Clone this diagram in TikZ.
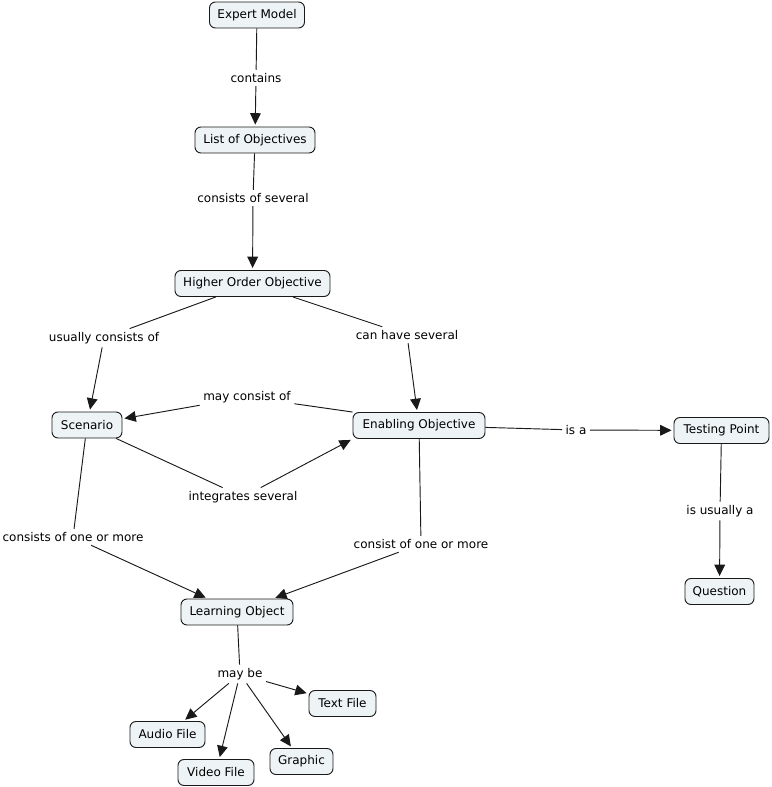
\documentclass[tikz,border=0pt]{standalone}
\usepackage{fontspec}
\setmainfont{DejaVu Sans}
\usetikzlibrary{arrows.meta}
\definecolor{nodefill}{RGB}{238,243,245}
\tikzset{
  concept/.style={draw=black!90, fill=nodefill, rounded corners=4.5pt, line width=0.7pt,
    minimum height=19.5pt, inner xsep=3pt, inner ysep=2pt, font=\fontsize{9}{10.5}\selectfont},
  lbl/.style={inner sep=2.5pt, font=\fontsize{9}{10.5}\selectfont},
  link/.style={line width=0.7pt, black!90},
  arr/.style={link, -{Triangle[length=8.5pt,width=8pt]}, shorten >=1.5pt},
}
\begin{document}
\begin{tikzpicture}[x=0.75pt,y=-0.75pt]
\useasboundingbox (0,0) rectangle (771,787);
% concepts
\node[concept, minimum width=71.25pt] (em) at (257,15) {Expert Model};
\node[concept, minimum width=90pt] (lo) at (255,140) {List of Objectives};
\node[concept, minimum width=116.25pt] (hoo) at (252.5,283.5) {Higher Order Objective};
\node[concept, minimum width=52.5pt] (sc) at (87,425) {Scenario};
\node[concept, minimum width=99pt] (eo) at (419,425.5) {Enabling Objective};
\node[concept, minimum width=71.25pt] (tp) at (721.5,430.5) {Testing Point};
\node[concept, minimum width=51.75pt] (q) at (719.5,591.5) {Question};
\node[concept, minimum width=84pt] (lob) at (237,612) {Learning Object};
\node[concept, minimum width=50.25pt] (tf) at (342.5,703.5) {Text File};
\node[concept, minimum width=56.25pt] (af) at (167.5,734.5) {Audio File};
\node[concept, minimum width=57pt] (vf) at (216,772.5) {Video File};
\node[concept, minimum width=47.25pt] (gr) at (301.5,761.5) {Graphic};
% linking phrases
\node[lbl] (l1) at (256,78) {contains};
\node[lbl] (l2) at (253,198) {consists of several};
\node[lbl] (l3) at (104,338) {usually consists of};
\node[lbl] (l4) at (407,335) {can have several};
\node[lbl] (l5) at (247,397) {may consist of};
\node[lbl] (l6) at (243,497) {integrates several};
\node[lbl] (l7) at (576,430) {is a};
\node[lbl] (l8) at (720,511) {is usually a};
\node[lbl] (l9) at (73,537) {consists of one or more};
\node[lbl] (l10) at (421,544) {consist of one or more};
\node[lbl] (l11) at (240,674) {may be};
% connectors
\draw[link] (em) -- (l1); \draw[arr] (l1) -- (lo);
\draw[link] (lo) -- (l2); \draw[arr] (l2) -- (hoo);
\draw[link] (hoo) -- (l3); \draw[arr] (l3) -- (sc);
\draw[link] (hoo) -- (l4); \draw[arr] (l4) -- (eo);
\draw[link] (eo.north west) -- (l5); \draw[arr] (l5) -- (sc);
\draw[link] (sc) -- (l6); \draw[arr] (l6) -- (eo.south west);
\draw[link] (eo) -- (l7); \draw[arr] (l7) -- (tp);
\draw[link] (tp) -- (l8); \draw[arr] (l8) -- (q);
\draw[link] (sc) -- (l9); \draw[arr] (l9) -- (lob);
\draw[link] (eo) -- (l10); \draw[arr] (l10) -- (lob);
\draw[link] (lob) -- (l11);
\draw[arr] (l11) -- (tf);
\draw[arr] (l11) -- (af);
\draw[arr] (l11) -- (vf);
\draw[arr] (l11) -- (gr);
\end{tikzpicture}
\end{document}
